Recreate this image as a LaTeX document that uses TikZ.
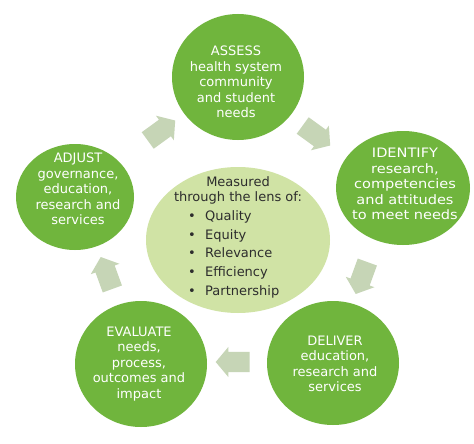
\documentclass[tikz,border=0pt]{standalone}
\usepackage{fontspec}
\setmainfont{DejaVu Sans}
\newfontfamily\widefont[FakeStretch=1.12]{DejaVu Sans}
\usetikzlibrary{shapes.geometric,shapes.arrows}
\definecolor{cgreen}{RGB}{112,181,61}
\definecolor{clens}{RGB}{208,227,165}
\definecolor{carrow}{RGB}{198,213,182}
\definecolor{ctext}{RGB}{45,45,45}
\begin{document}
\begin{tikzpicture}[x=1pt,y=-1pt,
  stage/.style={ellipse, fill=cgreen, draw=none, inner sep=0pt},
  lensshape/.style={ellipse, fill=clens, draw=none, inner sep=0pt},
  stagetext/.style={align=center, text=white, inner sep=0pt, font=\fontsize{13}{15.5}\selectfont},
  lenstext/.style={text=ctext, inner sep=0pt, text height=9.5pt, text depth=2.5pt, font=\fontsize{13}{15.5}\selectfont},
  flow/.style={single arrow, fill=carrow, draw=none, inner xsep=0pt, inner ysep=10pt,
    minimum height=34pt, single arrow head extend=5pt, single arrow tip angle=100}]
\useasboundingbox[fill=white] (0,0) rectangle (474,444);

% stages
\node[stage, minimum width=132pt, minimum height=126pt] (assess) at (238,77) {};
\node[stage, minimum width=134pt, minimum height=114pt] (identify) at (403,188) {};
\node[stage, minimum width=132pt, minimum height=124pt] (deliver) at (333,363) {};
\node[stage, minimum width=132pt, minimum height=126pt] (evaluate) at (141,364) {};
\node[stage, minimum width=118pt, minimum height=106pt] (adjust) at (75,197) {};
\node[lensshape, minimum width=184pt, minimum height=146pt] (lens) at (238,240) {};

% stage texts
\node[stagetext] (assesst) at (236,82) {ASSESS\\health system\\community\\and student\\needs};
\node[stagetext, font=\widefont\fontsize{13}{15.5}\selectfont] (identifyt) at (405,184) {IDENTIFY\\research,\\competencies\\and attitudes\\to meet needs};
\node[stagetext] (delivert) at (335,364) {DELIVER\\education,\\research and\\services};
\node[stagetext] (evaluatet) at (139,364) {EVALUATE\\needs,\\process,\\outcomes and\\impact};
\node[stagetext] (adjustt) at (78,189) {ADJUST\\governance,\\education,\\research and\\services};

% lens texts
\node[lenstext] (m1) at (238,183) {Measured};
\node[lenstext] (m2) at (238,198) {through the lens of:};
\foreach \y/\w/\n in {217/Quality/q1, 236/Equity/q2, 254/Relevance/q3, 273/Efficiency/q4, 292/Partnership/q5}{
  \node[lenstext] (b\n) at (192,\y) {\textbullet};
  \node[lenstext, anchor=west] (\n) at (205,\y) {\w};
}

% flow arrows
\node[flow, rotate=36] (f1) at (158,133) {};
\node[flow, rotate=-36] (f2) at (313,133) {};
\node[flow, rotate=-110] (f3) at (363,274) {};
\node[flow, rotate=180] (f4) at (237,362) {};
\node[flow, rotate=110] (f5) at (108,277) {};
\end{tikzpicture}
\end{document}
